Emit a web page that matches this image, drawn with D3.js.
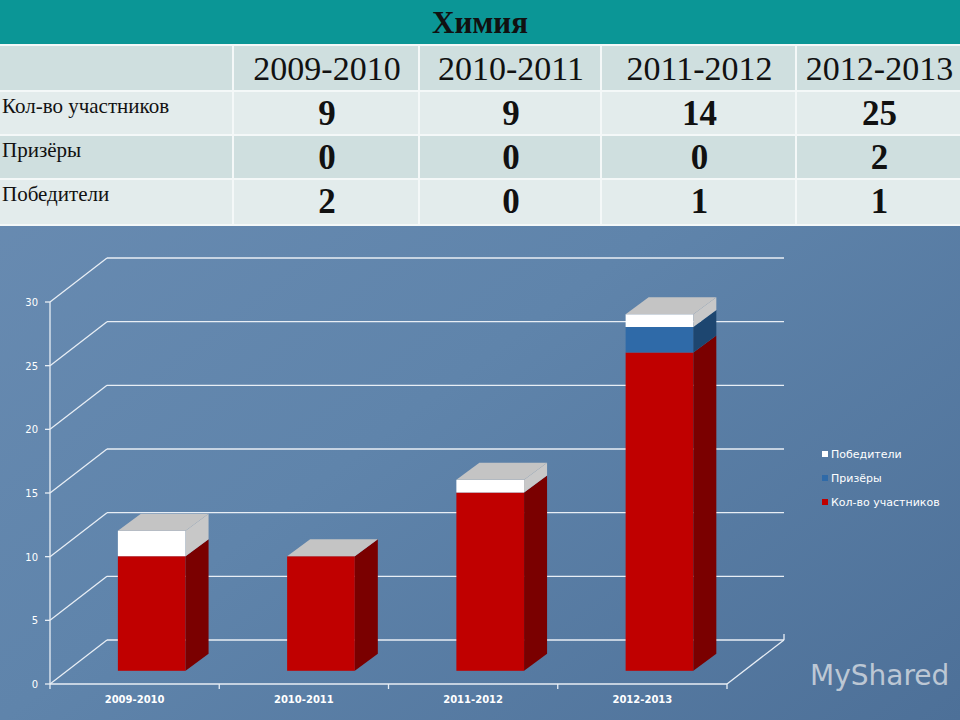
<!DOCTYPE html><html><head><meta charset="utf-8">
<script src="https://cdn.jsdelivr.net/npm/d3@7"></script>
<style>body{margin:0}svg{display:block}</style></head><body>
<script>
const title = "Химия";
const years = ["2009-2010","2010-2011","2011-2012","2012-2013"];
const rowNames = ["Кол-во участников","Призёры","Победители"];
const participants = [9, 9, 14, 25];
const prizewinners = [0, 0, 0, 2];
const winners = [2, 0, 1, 1];
const yTicks = [0,5,10,15,20,25,30];
const seriesNames = ["Кол-во участников","Призёры","Победители"];
const seriesColors = ["#c00000","#2f6aa8","#ffffff"];
const sideColors = ["#7a0000","#1d4670","#c8c8c8"];

const W=960,H=720;
const svg=d3.select("body").append("svg").attr("width",W).attr("height",H);
const defs=svg.append("defs");
const g=defs.append("linearGradient").attr("id","bg").attr("x1",0).attr("y1",0).attr("x2",1).attr("y2",1);
g.append("stop").attr("offset",0).attr("stop-color","#6b8db3");
g.append("stop").attr("offset",0.5).attr("stop-color","#5f84ab");
g.append("stop").attr("offset",1).attr("stop-color","#4d7098");
svg.append("rect").attr("width",W).attr("height",H).attr("fill","url(#bg)");

// table
svg.append("rect").attr("x",0).attr("y",0).attr("width",W).attr("height",226).attr("fill","#f4f8f8");
svg.append("rect").attr("x",0).attr("y",0).attr("width",W).attr("height",44).attr("fill","#0b9696");
svg.append("text").attr("x",480).attr("y",33).attr("text-anchor","middle").attr("font-family","Liberation Serif").attr("font-weight","bold").attr("font-size",31).attr("fill","#111").text(title);
const colX=[0,234,420,602,797,962];
const rowY=[46,92,136,180,226];
const rowFill=["#cfdfdf","#e3ecec","#cfdfdf","#e3ecec"];
rowFill.forEach((f,r)=>{
  for(let c=0;c<5;c++) svg.append("rect").attr("x",colX[c]).attr("y",rowY[r]).attr("width",colX[c+1]-colX[c]-2).attr("height",rowY[r+1]-rowY[r]-2).attr("fill",f);
});
years.forEach((y,i)=>svg.append("text").attr("x",(colX[i+1]+colX[i+2])/2).attr("y",80).attr("text-anchor","middle").attr("font-family","Liberation Serif").attr("font-size",34).attr("fill","#111").text(y));
const tableVals=[participants,prizewinners,winners];
rowNames.forEach((n,r)=>{
  svg.append("text").attr("x",2).attr("y",rowY[r+1]+21).attr("font-family","Liberation Serif").attr("font-size",21).attr("fill","#111").text(n);
  tableVals[r].forEach((v,i)=>svg.append("text").attr("x",(colX[i+1]+colX[i+2])/2).attr("y",rowY[r+1]+33).attr("text-anchor","middle").attr("font-family","Liberation Serif").attr("font-weight","bold").attr("font-size",35).attr("fill","#111").text(v));
});

// chart
const x0=50, x1=727, DX=57, DY=-44;
const y=d3.scaleLinear().domain([0,30]).range([684,302]);
const x=d3.scaleBand().domain(years).range([x0,x1]).paddingInner(0.6).paddingOuter(0.3);
const ch=svg.append("g");
const line=(a,b,c,d)=>ch.append("line").attr("x1",a).attr("y1",b).attr("x2",c).attr("y2",d).attr("stroke","#e8eef5").attr("stroke-width",1.3);
yTicks.forEach(t=>{
  line(x0,y(t),x0+DX,y(t)+DY);
  line(x0+DX,y(t)+DY,x1+DX,y(t)+DY);
  line(x0-5,y(t),x0,y(t));
  ch.append("text").attr("x",x0-12).attr("y",y(t)+4).attr("text-anchor","end").attr("font-family","DejaVu Sans").attr("font-size",10).attr("fill","#fff").text(t);
});
line(x0,y(0),x0,y(30));
line(x0,y(0),x1,y(0));
line(x1,y(0),x1+DX,y(0)+DY);
line(x1+DX,y(0)+DY,x1+DX,y(0)+DY-6);
[x0,...years.map((d,i)=>x0+(x1-x0)*(i+1)/4)].forEach(v=>line(v,y(0),v,y(0)+5));
years.forEach((yr,i)=>ch.append("text").attr("x",x0+(x1-x0)*(i+0.5)/4).attr("y",703).attr("text-anchor","middle").attr("font-family","DejaVu Sans").attr("font-weight","bold").attr("font-size",10).attr("fill","#fff").text(yr));

const off=0.3, bdx=23, bdy=-17;
const series=[participants,prizewinners,winners];
years.forEach((yr,i)=>{
  const bx=x(yr)+DX*off, bw=x.bandwidth();
  let base=0;
  series.forEach((s,k)=>{
    const v=s[i]; if(!v) return;
    const yb=y(base)+DY*off, yt=y(base+v)+DY*off;
    ch.append("rect").attr("x",bx).attr("y",yt).attr("width",bw).attr("height",yb-yt).attr("fill",seriesColors[k]);
    ch.append("path").attr("d",`M${bx+bw},${yb}L${bx+bw+bdx},${yb+bdy}L${bx+bw+bdx},${yt+bdy}L${bx+bw},${yt}Z`).attr("fill",sideColors[k]);
    base+=v;
  });
  const yt=y(base)+DY*off;
  ch.append("path").attr("d",`M${bx},${yt}L${bx+bdx},${yt+bdy}L${bx+bw+bdx},${yt+bdy}L${bx+bw},${yt}Z`).attr("fill","#c4c4c4");
});

// legend
[2,1,0].forEach((k,j)=>{
  const ly=457+j*24;
  ch.append("rect").attr("x",822).attr("y",ly-6).attr("width",6).attr("height",6).attr("fill",seriesColors[k]);
  ch.append("text").attr("x",831).attr("y",ly+1).attr("font-family","DejaVu Sans").attr("font-size",11).attr("fill","#fff").text(seriesNames[k]);
});
svg.append("text").attr("x",810).attr("y",685).attr("font-family","DejaVu Sans").attr("font-size",28).attr("fill","#d8dde3").attr("opacity",0.8).text("MyShared");
</script></body></html>
